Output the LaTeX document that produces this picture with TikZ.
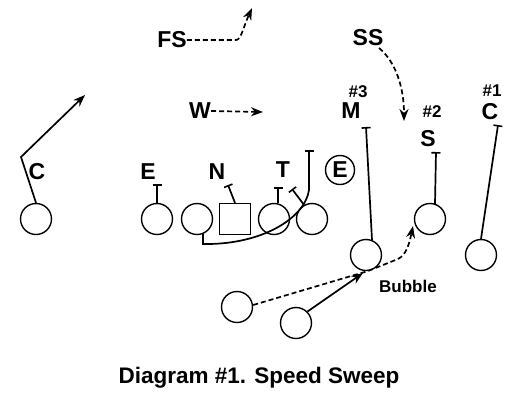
\documentclass[tikz,border=0pt]{standalone}
\usepackage{fontspec}
\setmainfont{Liberation Sans}
\usetikzlibrary{arrows.meta}
\begin{document}
\begin{tikzpicture}[x=1pt,y=-1pt,
  player/.style={draw,circle,line width=1.4pt,minimum size=31pt,inner sep=0pt},
  centerbox/.style={draw,rectangle,line width=1.4pt,minimum size=31pt,inner sep=0pt},
  big/.style={font=\fontsize{23}{23}\selectfont\bfseries,inner sep=0pt},
  small/.style={font=\fontsize{17}{17}\selectfont\bfseries,inner sep=0pt},
  route/.style={line width=1.7pt},
  dashroute/.style={line width=1.7pt,dash pattern=on 5pt off 3pt},
  blocktip/.style={-{Bar[width=9pt,line width=1.6pt]}},
  arrowtip/.style={-{Stealth[length=12pt,width=9pt]}}]
\useasboundingbox (0,0) rectangle (517,400);
% offense
\node[player] (lwr) at (36,219) {};
\node[player] (lte) at (157,219) {};
\node[player] (lg) at (197,219) {};
\node[centerbox] (ctr) at (235,219) {};
\node[player] (rg) at (274,219) {};
\node[player] (rt) at (312,219) {};
\node[player] (slot3) at (366,255) {};
\node[player] (slot2) at (430,219) {};
\node[player] (wr1) at (481,255) {};
\node[player] (qb) at (237,307) {};
\node[player] (rb) at (296,323) {};
% defense labels
\node[big] (fs) at (172,40) {FS};
\node[big] (ss) at (368,38) {SS};
\node[big] (w) at (200,111) {W};
\node[big] (m) at (351,111) {M};
\node[small] (n3) at (358,92) {\#3};
\node[big] (s) at (428,139) {S};
\node[small] (n2) at (432,112) {\#2};
\node[big] (cr) at (490,112) {C};
\node[small] (n1) at (492,91) {\#1};
\node[big] (cl) at (37,172) {C};
\node[big] (e) at (148,172) {E};
\node[big] (n) at (217,172) {N};
\node[big] (t) at (283,170) {T};
\node[draw,circle,line width=1.4pt,minimum size=29pt,inner sep=0pt,font=\fontsize{23}{23}\selectfont\bfseries] (ec) at (340,170) {E};
\node[small] (bub) at (408,286) {Bubble};
\node[font=\fontsize{22.5}{22.5}\selectfont\bfseries,inner sep=0pt,anchor=base] (cap) at (259,383) {Diagram \#1. Speed Sweep};
% coordinates for route ends
\coordinate (fsend) at (252,8);
\coordinate (ssstart) at (379,48);
\coordinate (ssend) at (404,121);
\coordinate (wend) at (263,112);
\coordinate (lwrturn) at (21,157);
\coordinate (lwrend) at (85,95);
\coordinate (eblk) at (157,184);
\coordinate (nblk) at (228,185);
\coordinate (tblk) at (278,187);
\coordinate (rtblk) at (292,189);
\coordinate (pullblk) at (309,150);
\coordinate (mblk) at (366,127);
\coordinate (sblk) at (436,152);
\coordinate (cblk) at (498,125);
\coordinate (bubturn) at (398,259);
\coordinate (bubend) at (413,226);
% defensive routes
\draw[dashroute,arrowtip] (fs.east) -- (236,40) .. controls (241,40) and (243,28) .. (fsend);
\draw[dashroute,arrowtip] (ssstart) .. controls (396,62) and (404,88) .. (ssend);
\draw[dashroute,arrowtip] (w.east) -- (wend);
% offensive routes
\draw[route,arrowtip] (lwr.north) -- (lwrturn) -- (lwrend);
\draw[route,blocktip] (lte.north) -- (eblk);
\draw[route,blocktip] (ctr.north) -- (nblk);
\draw[route,blocktip] (rg.north) ++(4,0.5) -- (tblk);
\draw[route,blocktip] (rt.north) ++(-8,2) -- (rtblk);
\draw[route,blocktip] (lg.south) ++(6,-1) coordinate (pullst) -- (203,244) .. controls (262,245) and (305,218) .. (309,190) -- (pullblk);
\draw[route,blocktip] (slot3.north) ++(6,1) -- (mblk);
\draw[route,blocktip] (slot2.north) ++(5,1) -- (sblk);
\draw[route,blocktip] (wr1.north) -- (cblk);
\draw[dashroute] (qb.east) ++(0,-2) -- (368,271) -- (bubturn);
\draw[dashroute,arrowtip] (bubturn) .. controls (406,255) and (409,245) .. (bubend);
\draw[route,arrowtip] (rb.north east) -- (363,273);
\end{tikzpicture}
\end{document}
